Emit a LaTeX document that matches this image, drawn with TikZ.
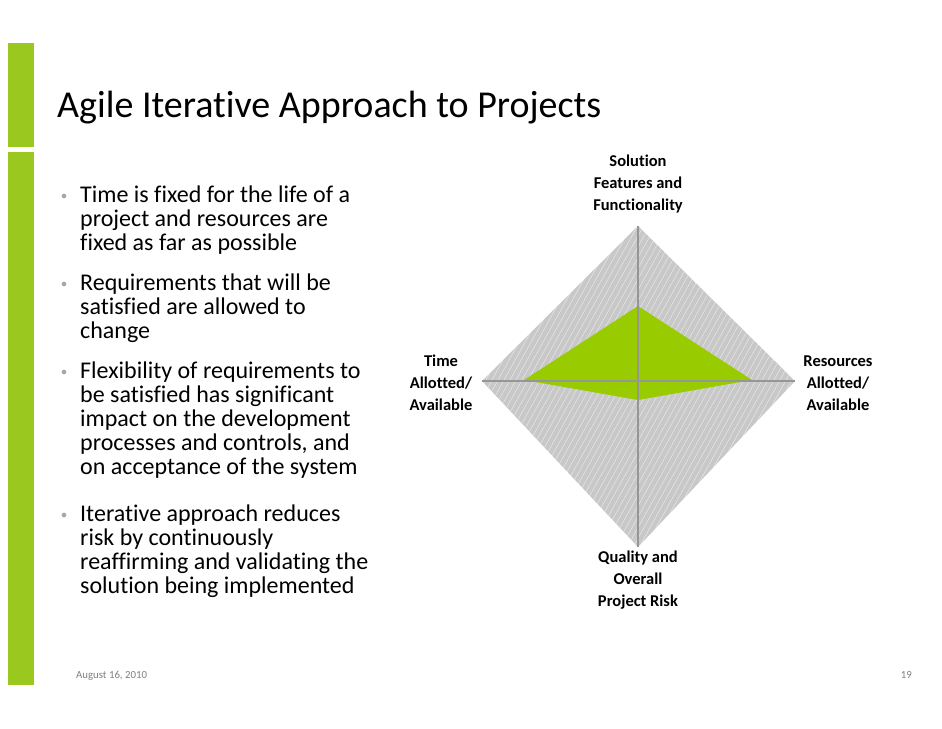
\documentclass[tikz,border=0pt]{standalone}
\usepackage{fontspec}
\setmainfont[Ligatures=NoCommon]{Carlito}
\definecolor{agreen}{RGB}{154,200,30}
\definecolor{fgreen}{RGB}{153,204,0}
\definecolor{dgray}{RGB}{200,200,200}
\definecolor{axgray}{RGB}{150,150,150}
\begin{document}
\begin{tikzpicture}[x=1pt,y=-1pt,
  body/.style={anchor=north west,align=left,font=\fontsize{24}{24}\selectfont,inner sep=0pt},
  bul/.style={anchor=center,font=\fontsize{13}{13}\selectfont,text=gray!70},
  lab/.style={align=center,font=\bfseries\fontsize{16.5}{22}\selectfont,inner sep=0pt}]
\useasboundingbox (0,0) rectangle (942,728);
\fill[white] (0,0) rectangle (942,728);
\fill[agreen] (8,43) rectangle (34,147);
\fill[agreen] (8,152) rectangle (34,685);
\node[anchor=base west,inner sep=0pt,font=\fontsize{38}{38}\selectfont] (title) at (57,117) {Agile Iterative Approach to Projects};
\node[body] (b1) at (80,186) {Time is fixed for the life of a\\project and resources are\\fixed as far as possible};
\node[body] (b2) at (80,274) {Requirements that will be\\satisfied are allowed to\\change};
\node[body] (b3) at (80,362) {Flexibility of requirements to\\be satisfied has significant\\impact on the development\\processes and controls, and\\on acceptance of the system};
\node[body] (b4) at (80,505) {Iterative approach reduces\\risk by continuously\\reaffirming and validating the\\solution being implemented};
\foreach \y/\n in {197/p1,285/p2,373/p3,516/p4} \node[bul] (\n) at (64,\y) {$\bullet$};
\node[anchor=base west,inner sep=0pt,font=\fontsize{10.8}{11}\selectfont,text=gray] (date) at (76,678) {August 16, 2010};
\node[anchor=base east,inner sep=0pt,font=\fontsize{10.8}{11}\selectfont,text=gray] (pg) at (912,678) {19};
% radar
\coordinate (T) at (638,226); \coordinate (R) at (795,381);
\coordinate (B) at (638,547); \coordinate (L) at (482,381);
\fill[dgray] (T) -- (R) -- (B) -- (L) -- cycle;
\begin{scope}
\clip (T) -- (R) -- (B) -- (L) -- cycle;
\foreach \k in {0,6,...,640} \draw[white,line width=0.5pt,opacity=0.6] (400+\k,200) -- (\k+200,560);
\end{scope}
\fill[fgreen] (638,306) -- (752,380) -- (638,400) -- (524,380) -- cycle;
\draw[axgray,line width=2pt] (T) -- (B);
\draw[axgray,line width=2pt] (L) -- (R);
\node[lab] (lt) at (638,184) {Solution\\Features and\\Functionality};
\node[lab] (ll) at (441,383) {Time\\Allotted/\\Available};
\node[lab] (lr) at (838,383) {Resources\\Allotted/\\Available};
\node[lab] (lb) at (638,580) {Quality and\\Overall\\Project Risk};
\end{tikzpicture}
\end{document}
